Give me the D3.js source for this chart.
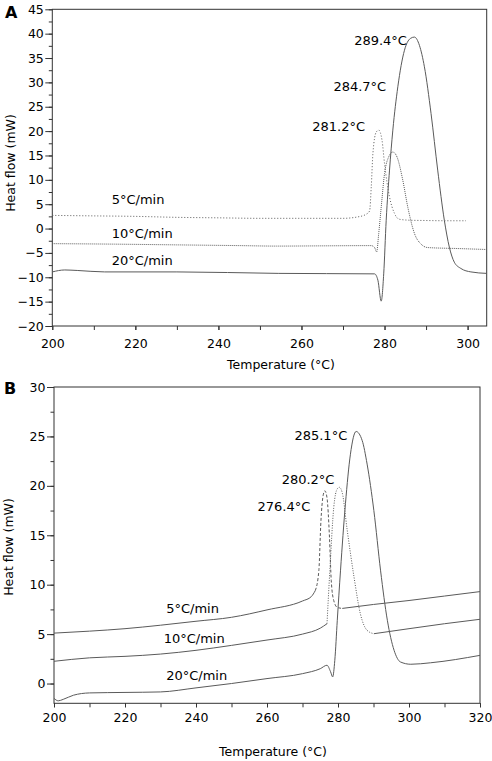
<!DOCTYPE html>
<meta charset="utf-8">
<head>
  <title>DSC curves</title>
  <style>
  body { margin: 0; background: #fff; }
  svg text { font-family: "DejaVu Sans", "Liberation Sans", Arial, sans-serif; fill: #000; }
  .axis path { display: none; }
  .axis line { stroke: #333; }
  .axis text { font-size: 12.5px; }
  .curve { fill: none; stroke: #5a5a5a; stroke-width: 1; }
  </style>
</head>
<body>
<svg width="492" height="761"></svg>
<script src="https://d3js.org/d3.v7.min.js"></script>
<script>
// ---- panel A: [temperature (°C), heat flow (mW)] ----
var a5 = [[200, 2.7], [210, 2.6], [220, 2.5], [230, 2.3], [240, 2.2], [250, 2.1], [260, 2.1],
  [270, 2.1], [273.6, 2.4], [275.5, 2.9], [276.4, 3.6], [276.8, 8.5], [277.2, 15.4], [278, 19.8],
  [278.6, 20.2], [279.4, 18.1], [280, 13.3], [281.2, 6.5], [282.4, 3.1], [283.6, 1.9],
  [286.4, 1.7], [290, 1.65], [295, 1.6], [299.6, 1.6]];
var a10 = [[200, -3.1], [215, -3.2], [230, -3.35], [245, -3.5], [254, -3.6], [265, -3.55],
  [276.8, -3.5], [277.6, -3.9], [278.1, -4.8], [278.6, -1.0], [279.2, 4.4], [280, 11.3],
  [281, 14.7], [282, 15.7], [283, 14.7], [284.4, 9.9], [285.6, 4.4], [287.2, -1.0],
  [288.8, -3.2], [290.4, -3.9], [297.6, -4.1], [304.6, -4.3]];
var a20 = [[200, -8.9], [203, -8.5], [206, -8.6], [212.6, -8.9], [230, -8.9], [254.4, -9.2],
  [277.6, -9.3], [278.4, -10.6], [279.2, -14.9], [279.8, -9.3], [280.4, 1.7], [281.2, 12],
  [282, 20.2], [283.2, 29.1], [284.8, 36.6], [286.2, 39.0], [287.2, 39.3], [288.4, 37.6],
  [289.6, 33.2], [291.2, 23.6], [292.8, 12], [294.4, 1.7], [295.6, -3.8], [296.8, -6.9],
  [298.4, -8.2], [300.8, -8.9], [304.6, -9.2]];

// ---- panel B ----
var b5Base = [[200, 5.1], [210, 5.3], [220, 5.55], [230, 5.9], [240, 6.3], [250, 6.7],
  [260, 7.45], [270, 8.35], [272.5, 8.8], [273.6, 9.4]];
var b5Peak = [[273.6, 9.4], [274.6, 11.4], [275.2, 16.5], [275.8, 19.0], [276.3, 19.5],
  [276.9, 18.8], [277.6, 14.8], [278.1, 10.4], [278.8, 8.4], [279.8, 7.7], [281.2, 7.6]];
var b5Tail = [[281.2, 7.6], [290, 8.0], [300, 8.4], [310, 8.85], [320, 9.3]];

var b10Base = [[200, 2.25], [210, 2.6], [220, 2.75], [230, 2.98], [240, 3.36], [250, 3.86],
  [260, 4.4], [270, 5.0], [275, 5.6], [276.9, 6.05]];
var b10Peak = [[276.9, 6.05], [277.7, 11.4], [278.8, 17.8], [279.8, 19.7], [280.4, 19.85],
  [281.2, 19.3], [282.6, 15.5], [284.5, 10.8], [286.3, 7.06], [288.2, 5.38], [290.1, 5.04]];
var b10Tail = [[290.1, 5.04], [300, 5.55], [310, 6.05], [320, 6.5]];

var b20 = [[200, -1.5], [201.2, -1.75], [202.6, -1.6], [205.5, -1.18], [210, -0.95], [220, -0.9],
  [230, -0.85], [240, -0.44], [250, 0], [260, 0.5], [270, 1.0], [275, 1.5], [276.9, 1.85],
  [277.9, 1.2], [278.5, 0.67], [279.1, 2.35], [279.8, 6.4], [280.7, 11.4], [282.1, 18.2],
  [283.5, 23.2], [285.1, 25.5], [286.8, 24.6], [288.2, 22.2], [290.1, 17.5], [292, 11.4],
  [293.9, 6.4], [295.8, 3.36], [297.6, 2.18], [300.5, 1.95], [306.1, 2.1], [320, 2.85]];

// ticks and labels
var aXTicks = [200, 220, 240, 260, 280, 300];
var aYTicks = [-20, -15, -10, -5, 0, 5, 10, 15, 20, 25, 30, 35, 40, 45];
var bXTicks = [200, 220, 240, 260, 280, 300, 320];
var bYTicks = [0, 5, 10, 15, 20, 25, 30];
var rateLabels = ["5°C/min", "10°C/min", "20°C/min"];
var aPeakLabels = ["289.4°C", "284.7°C", "281.2°C"];
var bPeakLabels = ["285.1°C", "280.2°C", "276.4°C"];

var svg = d3.select("svg");

function drawPanel(o) {
  var x = d3.scaleLinear().domain(o.xDomain).range([o.left, o.right]);
  var y = d3.scaleLinear().domain(o.yDomain).range([o.bottom, o.top]);

  // minor + major ticks
  var yMinor = d3.range(o.yTicks[0], o.yDomain[1] + 0.01, 2.5);
  var xMinor = d3.range(o.xDomain[0], o.xDomain[1] + 0.01, 10);
  svg.append("g").attr("class", "axis")
      .attr("transform", "translate(" + o.left + ",0)")
      .call(d3.axisLeft(y).tickValues(yMinor).tickSize(3.5).tickFormat(""));
  svg.append("g").attr("class", "axis")
      .attr("transform", "translate(" + o.left + ",0)")
      .call(d3.axisLeft(y).tickValues(o.yTicks).tickSize(7).tickPadding(1.5));
  svg.append("g").attr("class", "axis")
      .attr("transform", "translate(0," + o.bottom + ")")
      .call(d3.axisBottom(x).tickValues(xMinor).tickSize(4).tickFormat(""));
  svg.append("g").attr("class", "axis")
      .attr("transform", "translate(0," + o.bottom + ")")
      .call(d3.axisBottom(x).tickValues(o.xTicks).tickSize(4).tickPadding(o.xPad));

  svg.append("rect")
      .attr("x", o.left).attr("y", o.top)
      .attr("width", o.right - o.left).attr("height", o.bottom - o.top)
      .attr("fill", "none").attr("stroke", "#333").attr("stroke-width", 1);

  var line = d3.line()
      .x(function(d) { return x(d[0]); })
      .y(function(d) { return y(d[1]); })
      .curve(d3.curveMonotoneX);

  o.series.forEach(function(s) {
    svg.append("path")
        .datum(s.data)
        .attr("class", "curve")
        .attr("stroke-dasharray", s.dash)
        .attr("d", line);
  });

  // rate labels and peak labels, anchored in data units
  o.rateAt.forEach(function(p, i) {
    svg.append("text").attr("x", x(p[0])).attr("y", y(p[1]))
        .attr("font-size", 13).text(rateLabels[i]);
  });
  o.peakAt.forEach(function(p, i) {
    svg.append("text").attr("x", x(p[0])).attr("y", y(p[1]))
        .attr("font-size", 13).attr("text-anchor", "end").text(o.peakLabels[i]);
  });

  svg.append("text")
      .attr("x", o.xTitle[0]).attr("y", o.xTitle[1])
      .attr("font-size", 12.5).attr("text-anchor", "middle")
      .text("Temperature (°C)");
  svg.append("text")
      .attr("transform", "translate(" + o.yTitle[0] + "," + o.yTitle[1] + ") rotate(-90)")
      .attr("dy", "0.35em")
      .attr("font-size", 12.5).attr("text-anchor", "middle")
      .text("Heat flow (mW)");
  svg.append("text")
      .attr("x", o.letter[0]).attr("y", o.letter[1])
      .attr("font-size", 16).attr("font-weight", "bold")
      .text(o.name);
}

drawPanel({
  name: "A", letter: [5, 18],
  left: 52.3, right: 486.7, top: 9.3, bottom: 326,
  xDomain: [200, 304.6], yDomain: [-20, 45],
  xTicks: aXTicks, yTicks: aYTicks, xPad: 9,
  series: [
    {data: a5, dash: "1,2"},
    {data: a10, dash: "1,1"},
    {data: a20, dash: null}
  ],
  rateAt: [[214.3, 5], [214.3, -1.9], [214.3, -7.4]],
  peakAt: [[285.4, 37.6], [280.4, 28.2], [275.3, 20.0]],
  peakLabels: aPeakLabels,
  xTitle: [281, 369], yTitle: [11, 163]
});

drawPanel({
  name: "B", letter: [4, 394],
  left: 54, right: 480, top: 387, bottom: 703.3,
  xDomain: [200, 320], yDomain: [-2, 30],
  xTicks: bXTicks, yTicks: bYTicks, xPad: 6,
  series: [
    {data: b5Base, dash: null},
    {data: b5Peak, dash: "3,2"},
    {data: b5Tail, dash: null},
    {data: b10Base, dash: null},
    {data: b10Peak, dash: "1,1.5"},
    {data: b10Tail, dash: null},
    {data: b20, dash: null}
  ],
  rateAt: [[231.6, 7.1], [230.9, 4.07], [231.6, 0.33]],
  peakAt: [[282.6, 24.6], [279.0, 20.2], [272.2, 17.5]],
  peakLabels: bPeakLabels,
  xTitle: [273, 756], yTitle: [9, 547]
});
</script>
</body>
